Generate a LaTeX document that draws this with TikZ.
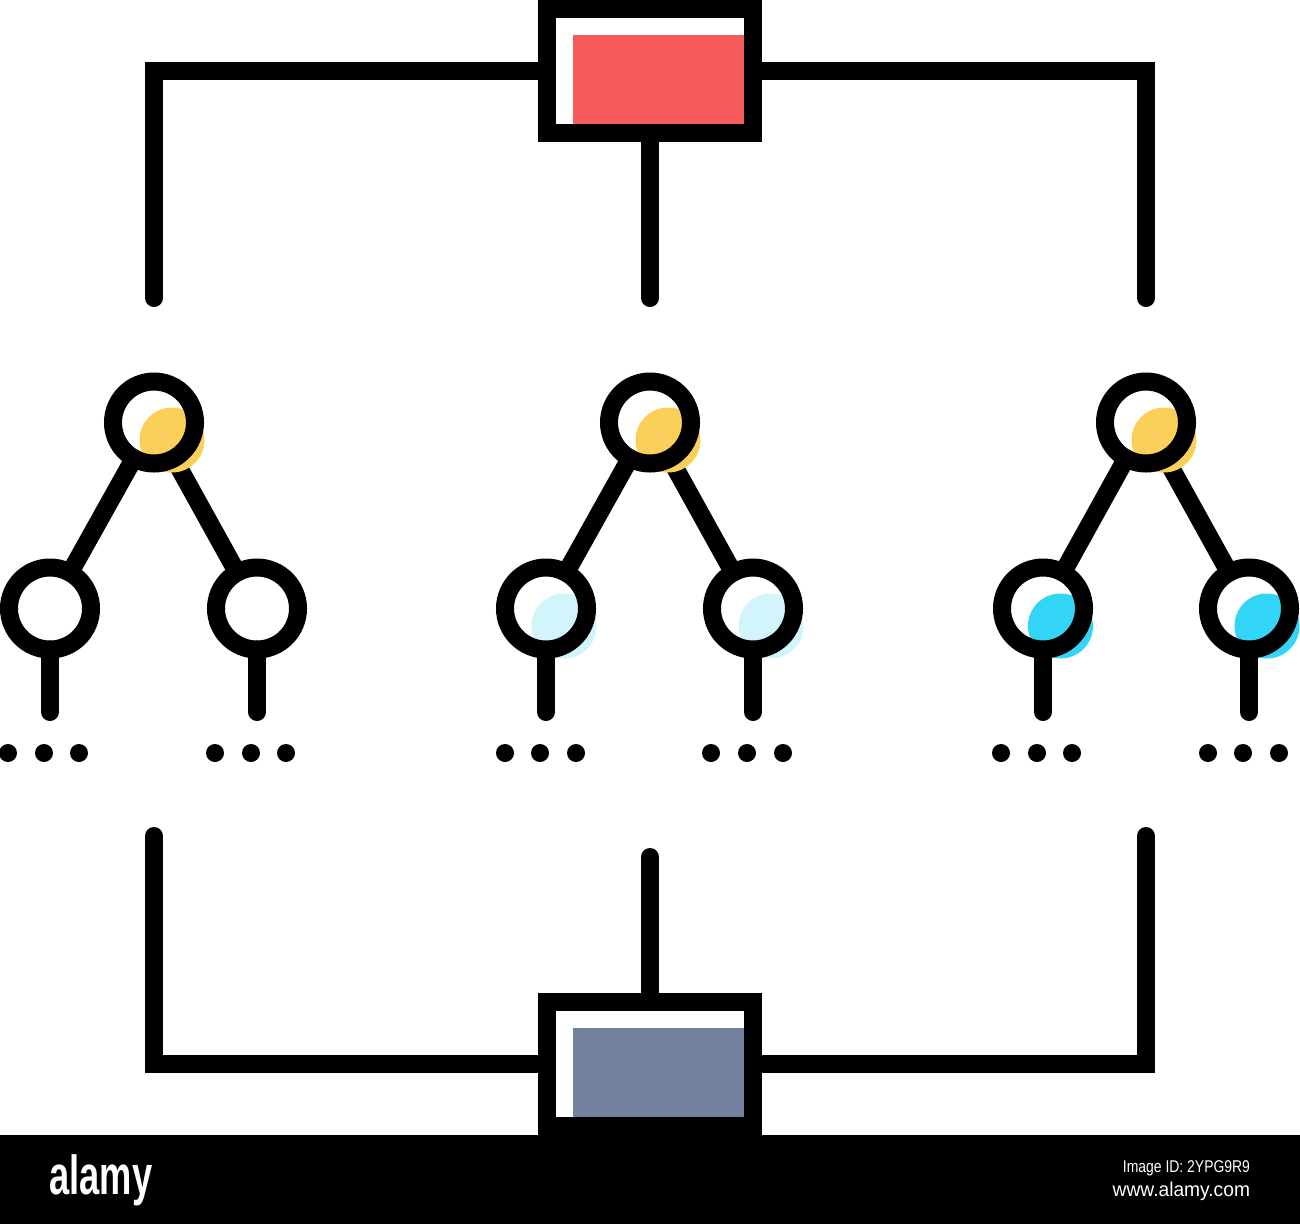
\documentclass[tikz,border=0pt]{standalone}
\usepackage{fontspec}
\setmainfont{Liberation Sans}
\definecolor{redfill}{HTML}{F65A5A}
\definecolor{slatefill}{HTML}{72829E}
\definecolor{yellowfill}{HTML}{FBD05A}
\definecolor{cyanfill}{HTML}{32D5F5}
\definecolor{palefill}{HTML}{D2F5FC}
\pgfdeclarelayer{front}
\pgfsetlayers{main,front}
\tikzset{
  ring/.style={circle,draw=black,line width=18pt,minimum size=82pt,inner sep=0pt,outer sep=0pt},
  blob/.style={circle,fill=#1,minimum size=65pt,inner sep=0pt,outer sep=0pt},
  dot/.style={circle,fill=black,minimum size=18pt,inner sep=0pt,outer sep=0pt},
  framebox/.style={rectangle,draw=black,line width=18pt,minimum width=206pt,minimum height=124pt,inner sep=0pt,outer sep=0pt},
  panel/.style={rectangle,fill=#1,minimum width=172pt,minimum height=89pt,inner sep=0pt,outer sep=0pt},
  wire/.style={draw=black,line width=18pt,line cap=round},
  bandtext/.style={text=white,inner sep=0pt,outer sep=0pt}
}
\begin{document}
\begin{tikzpicture}[x=1pt,y=-1pt]
      \useasboundingbox (0,0) rectangle (1300,1224);
      \fill[white] (0,0) rectangle (1300,1224);
      \path
        (659,79.5) node[panel=redfill] (panelTop){}
        (659,1072.5) node[panel=slatefill] (panelBot){};
      \path
        (650,71) node[framebox] (boxTop){}
        (650,1064) node[framebox] (boxBot){};
      % rings sit on top of the colour
      \begin{pgfonlayer}{front}
      \path
        (154,422.5) node[ring] (rootA){}
        (650,422.5) node[ring] (rootB){}
        (1146,422.5) node[ring] (rootC){}
        (50,608.5) node[ring] (leafA){}
        (257,608.5) node[ring] (leafB){}
        (546,608.5) node[ring] (leafC){}
        (753,608.5) node[ring] (leafD){}
        (1043,608.5) node[ring] (leafE){}
        (1249,608.5) node[ring] (leafF){};
      \end{pgfonlayer}
      \path
        (154,298) coordinate (upA)
        (650,298) coordinate (upB)
        (1146,298) coordinate (upC)
        (154,836) coordinate (downA)
        (650,857) coordinate (downB)
        (1146,836) coordinate (downC)
        (50,712) coordinate (stemA)
        (257,712) coordinate (stemB)
        (546,712) coordinate (stemC)
        (753,712) coordinate (stemD)
        (1043,712) coordinate (stemE)
        (1249,712) coordinate (stemF);
      \begin{scope}[every path/.style={wire}]
        \draw (boxTop.west) -| (upA);
        \draw (boxTop.south) to (upB);
        \draw (boxTop.east) -| (upC);
        \draw (boxBot.west) -| (downA);
        \draw (boxBot.north) to (downB);
        \draw (boxBot.east) -| (downC);
        \draw (rootA) to (leafA);
        \draw (rootA) to (leafB);
        \draw (rootB) to (leafC);
        \draw (rootB) to (leafD);
        \draw (rootC) to (leafE);
        \draw (rootC) to (leafF);
        \draw (leafA) to (stemA);
        \draw (leafB) to (stemB);
        \draw (leafC) to (stemC);
        \draw (leafD) to (stemD);
        \draw (leafE) to (stemE);
        \draw (leafF) to (stemF);
      \end{scope}
      % colour behind the rings
      \path
        (172,440) node[blob=yellowfill] (sunA){}
        (668,440) node[blob=yellowfill] (sunB){}
        (1164,440) node[blob=yellowfill] (sunC){}
        (564,626) node[blob=palefill] (paleA){}
        (771,626) node[blob=palefill] (paleB){}
        (1060.5,626) node[blob=cyanfill] (skyA){}
        (1267,626) node[blob=cyanfill] (skyB){};
      \path
        (8,753) node[dot] (dotA1){}
        (44,753) node[dot] (dotA2){}
        (79,753) node[dot] (dotA3){}
        (215,753) node[dot] (dotB1){}
        (251,753) node[dot] (dotB2){}
        (286,753) node[dot] (dotB3){}
        (505,753) node[dot] (dotC1){}
        (540,753) node[dot] (dotC2){}
        (576,753) node[dot] (dotC3){}
        (711,753) node[dot] (dotD1){}
        (747,753) node[dot] (dotD2){}
        (783,753) node[dot] (dotD3){}
        (1001,753) node[dot] (dotE1){}
        (1037,753) node[dot] (dotE2){}
        (1072,753) node[dot] (dotE3){}
        (1208,753) node[dot] (dotF1){}
        (1243,753) node[dot] (dotF2){}
        (1279,753) node[dot] (dotF3){};
      % bottom band
      \fill[black] (0,1135) rectangle (1300,1224);
      \node[bandtext,anchor=base,xscale=.66,font=\fontsize{55}{55}\selectfont\bfseries] (logo) at (101,1194) {alamy};
      \node[bandtext,anchor=base east,xscale=.82,font=\fontsize{17}{17}\selectfont] (imageid) at (1250,1172) {Image ID: 2YPG9R9};
      \node[bandtext,anchor=base east,xscale=.96,font=\fontsize{20}{20}\selectfont] (site) at (1250,1196) {www.alamy.com};
    \end{tikzpicture}
\end{document}
